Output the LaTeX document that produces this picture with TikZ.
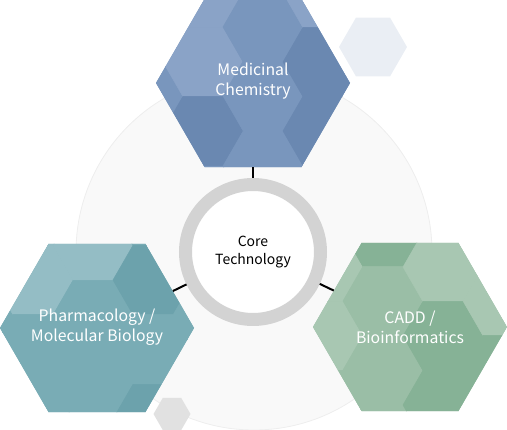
\documentclass[tikz,border=0pt]{standalone}
\usepackage{fontspec}
\setmainfont{Noto Sans CJK KR}
\usetikzlibrary{shapes.geometric}
\definecolor{bg}{RGB}{249, 249, 249}
\definecolor{bgline}{RGB}{238, 238, 238}
\definecolor{ring}{RGB}{211, 211, 211}
\definecolor{tophex}{RGB}{234, 238, 244}
\definecolor{bothex}{RGB}{225, 225, 225}
\definecolor{medL}{RGB}{138, 163, 199}
\definecolor{medM}{RGB}{121, 150, 189}
\definecolor{medD}{RGB}{106, 136, 177}
\definecolor{phL}{RGB}{148, 189, 197}
\definecolor{phM}{RGB}{121, 172, 181}
\definecolor{phD}{RGB}{108, 162, 172}
\definecolor{cadL}{RGB}{168, 199, 178}
\definecolor{cadM}{RGB}{154, 190, 166}
\definecolor{cadD}{RGB}{134, 178, 150}
\newcommand{\hexcell}[3]{\filldraw[fill=#3, draw=#3, line width=0.5pt] ([xshift=#1pt, yshift=#2pt]path picture bounding box.center) ++(0:40pt) -- ++(120:40pt) -- ++(180:40pt) -- ++(240:40pt) -- ++(300:40pt) -- ++(0:40pt) -- cycle;}

\begin{document}
\begin{tikzpicture}[
bighex/.style={regular polygon, regular polygon sides=6, minimum size=194pt, inner sep=0pt},
hextext/.style={text=white, align=center, font=\fontsize{15.8}{20}\selectfont},
minihex/.style={regular polygon, regular polygon sides=6, inner sep=0pt},
link/.style={line width=2pt, color=black}]
\useasboundingbox (0pt, 0pt) rectangle (507pt, -430pt);
\node (back) [circle, minimum size=356pt, fill=bg, draw=bgline, line width=0.8pt] at (254pt, -252pt) {};
\node (dot1) [minihex, minimum size=68pt, fill=tophex] at (373pt, -47pt) {};
\node (dot2) [minihex, minimum size=37pt, fill=bothex] at (172pt, -414pt) {};
\node (med) [bighex, fill=medM, path picture={
  \foreach \x/\y/\s in {-110/56/medM, -110/-13/medM, -110/-83/medM,
    -50/90/medL, -50/21/medL, -50/-48/medD, -50/-118/medM,
    10/125/medM, 10/56/medM, 10/-13/medM, 10/-83/medM,
    70/90/medL, 70/21/medD, 70/-48/medD, 70/-118/medM,
    130/56/medM, 130/-13/medD, 130/-83/medM}{\hexcell{\x}{\y}{\s}}}] at (253pt, -83pt) {};
\node (pharm) [bighex, fill=phM, path picture={
  \foreach \x/\y/\s in {-124/82/phL, -124/13/phM, -124/-56/phM,
    -64/117/phL, -64/48/phL, -64/-21/phM, -64/-91/phM,
    -4/82/phL, -4/13/phM, -4/-56/phM,
    56/117/phM, 56/48/phD, 56/-21/phM, 56/-91/phD,
    116/82/phM, 116/13/phM, 116/-56/phM}{\hexcell{\x}{\y}{\s}}}] at (97pt, -328pt) {};
\node (cadd) [bighex, fill=cadM, path picture={
  \foreach \x/\y/\s in {-87/60/cadL, -87/-9/cadL, -87/-78/cadM,
    -27/95/cadD, -27/26/cadM, -27/-43/cadM, -27/-113/cadM,
    33/60/cadL, 33/-9/cadD, 33/-78/cadD,
    93/95/cadL, 93/26/cadL, 93/-43/cadD, 93/-113/cadD}{\hexcell{\x}{\y}{\s}}}] at (410pt, -327pt) {};
\node (medtext) [hextext] at (253pt, -81pt) {Medicinal\\Chemistry};
\node (pharmtext) [hextext] at (97pt, -327pt) {Pharmacology /\\Molecular Biology};
\node (caddtext) [hextext] at (410pt, -327pt) {CADD /\\Bioinformatics};
\node (core) [circle, minimum size=135pt, line width=13pt, draw=ring, fill=white, align=center, font=\fontsize{14}{18}\selectfont] at (253pt, -252pt) {Core\\Technology};
\draw [link] (med) to (core);
\draw [link] (pharm) to (core);
\draw [link] (cadd) to (core);
\end{tikzpicture}
\end{document}
